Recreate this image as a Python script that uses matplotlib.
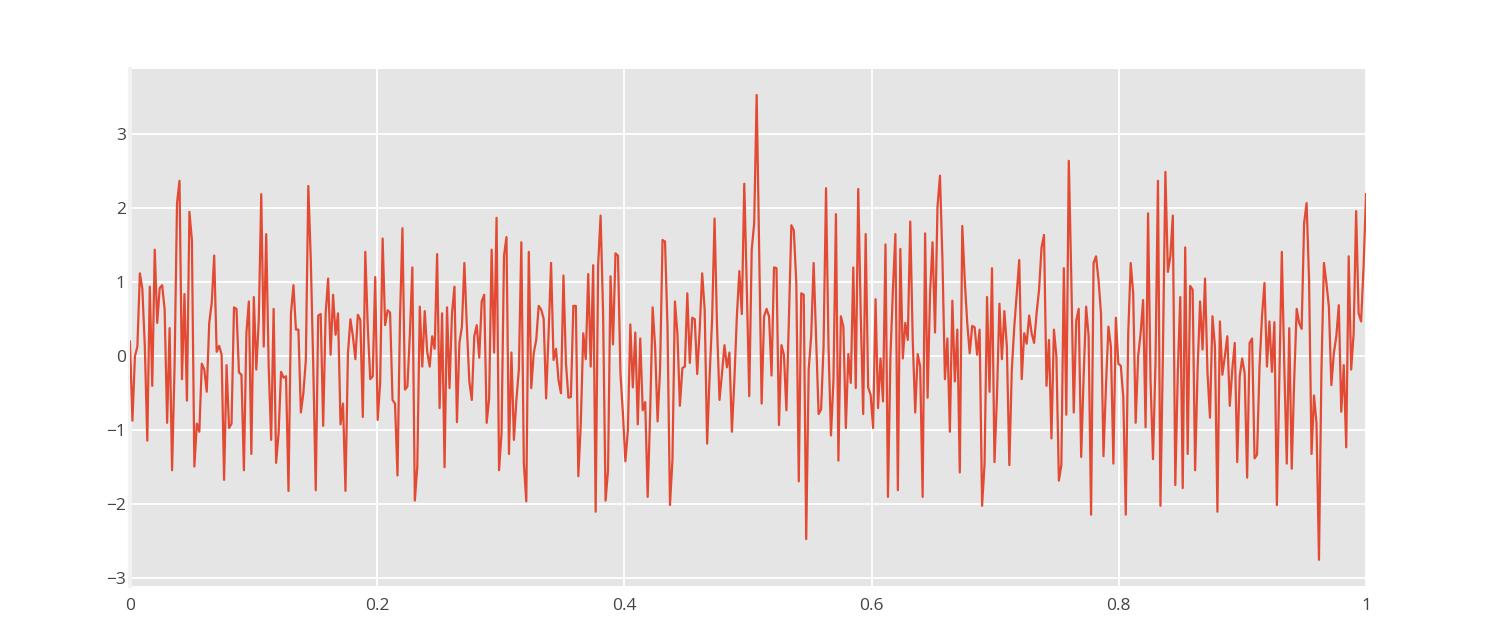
import numpy as np
import matplotlib.pyplot as plt

plt.rcParams['font.family'] = ['Open Sans', 'DejaVu Sans']

# values, 500 evenly spaced samples on [0, 1]
y_vals = [
    0.20, -0.87, 0.00, 0.13, 1.12, 0.91, 0.13, -1.14, 0.94, -0.40,
    1.44, 0.45, 0.92, 0.96, 0.63, -0.90, 0.38, -1.54, -0.14, 2.07,
    2.37, -0.31, 0.84, -0.60, 1.95, 1.57, -1.49, -0.91, -1.02, -0.10,
    -0.18, -0.48, 0.45, 0.72, 1.36, 0.06, 0.14, 0.02, -1.67, -0.12,
    -0.97, -0.91, 0.66, 0.64, -0.22, -0.25, -1.54, 0.31, 0.74, -1.32,
    0.80, -0.18, 0.49, 2.19, 0.13, 1.65, -0.14, -1.13, 0.64, -1.44,
    -1.04, -0.21, -0.29, -0.27, -1.82, 0.58, 0.96, 0.36, 0.36, -0.76,
    -0.50, -0.05, 2.30, 1.30, -0.14, -1.81, 0.55, 0.57, -0.94, 0.58,
    1.05, 0.02, 0.83, 0.29, 0.58, -0.92, -0.64, -1.82, 0.04, 0.50,
    0.27, -0.04, 0.56, 0.49, -0.82, 1.41, 0.40, -0.31, -0.27, 1.07,
    -0.86, -0.36, 1.59, 0.42, 0.62, 0.59, -0.59, -0.64, -1.61, 0.49,
    1.73, -0.45, -0.41, 0.30, 1.20, -1.95, -1.49, 0.67, -0.14, 0.61,
    0.06, -0.14, 0.27, 0.10, 1.38, -0.70, 0.58, -1.50, 0.66, -0.43,
    0.58, 0.94, -0.89, 0.18, 0.40, 1.26, 0.40, -0.34, -0.59, 0.27,
    0.42, -0.02, 0.74, 0.83, -0.90, -0.57, 1.44, 0.05, 1.87, -1.54,
    -1.04, 1.36, 1.61, -1.32, 0.05, -1.13, -0.59, -0.18, 1.54, -1.45,
    -1.96, 1.41, -0.43, 0.04, 0.22, 0.68, 0.63, 0.51, -0.57, 0.31,
    1.26, -0.05, 0.10, -0.32, -0.50, 1.09, -0.09, -0.56, -0.55, 0.68,
    0.68, -1.62, -0.91, 0.31, -0.04, 1.11, -0.14, 1.23, -2.10, 1.23,
    1.90, 0.58, -1.95, -1.54, 1.08, 0.16, 1.39, 1.36, -0.23, -0.77,
    -1.42, -1.00, 0.43, -0.42, 0.32, -0.92, 0.24, -0.73, -0.62, -1.90,
    -0.77, 0.66, 0.13, -0.88, -0.18, 1.57, 1.55, 0.40, -2.01, -1.40,
    0.74, 0.31, -0.67, -0.16, -0.14, 0.85, -0.09, 0.52, 0.50, -0.24,
    0.36, 1.12, 0.63, -1.18, -0.27, 0.49, 1.86, 0.40, -0.59, -0.23,
    0.15, -0.15, 0.05, -1.02, -0.32, 0.54, 1.15, 0.57, 2.33, 0.94,
    -0.54, 1.44, 1.80, 3.53, 1.48, -0.64, 0.54, 0.64, 0.54, -0.26,
    1.20, 1.19, -0.93, 0.15, 0.02, -0.73, 0.49, 1.77, 1.70, 0.99,
    -1.69, 0.85, 0.83, -2.47, -0.18, 0.27, 1.26, 0.22, -0.78, -0.72,
    0.13, 2.27, 0.13, -1.07, -0.32, 1.92, -1.41, 0.54, 0.40, -0.97,
    0.03, -0.36, 1.20, -0.43, 2.26, 0.58, -0.78, 1.65, -0.42, -0.52,
    -0.97, 0.77, -0.70, -0.03, -0.61, 1.51, -1.90, 0.00, 0.90, 1.65,
    -1.81, 1.45, -0.03, 0.45, 0.22, 1.82, 0.22, -0.76, 0.03, -0.14,
    -1.90, 1.66, -0.56, 0.85, 1.54, 0.32, 2.02, 2.44, 1.30, -0.31,
    0.24, -1.02, 0.75, -0.34, 0.36, -1.57, 1.76, 1.03, 0.45, 0.04,
    0.41, 0.39, 0.02, 0.36, -2.02, -1.45, 0.80, -0.48, 1.19, -1.43,
    -0.55, 0.71, -0.04, 0.61, 0.13, -1.47, -0.18, 0.40, 0.85, 1.30,
    -0.31, 0.31, 0.17, 0.55, 0.31, 0.18, 0.58, 0.90, 1.47, 1.64,
    -0.40, 0.22, -1.11, 0.36, 0.00, -1.68, -1.47, 1.19, -0.79, 2.64,
    1.08, -0.76, 0.48, 0.64, -1.36, -0.27, 0.67, 0.27, -2.14, 1.26,
    1.35, 1.03, 0.58, -1.35, -0.41, 0.40, 0.13, -1.45, 0.52, -0.10,
    -0.13, -0.55, -2.14, 0.31, 1.26, 0.85, -0.90, 0.00, 0.31, 0.76,
    -0.96, 1.93, -0.32, -1.39, -0.09, 2.37, -2.02, 0.04, 2.49, 1.14,
    1.35, 1.90, -1.74, -0.23, 0.80, -1.78, 1.47, -1.32, 0.95, 0.90,
    -1.54, -0.18, 0.74, 0.09, 1.05, -0.23, -0.83, 0.54, 0.13, -2.10,
    0.47, -0.25, 0.00, 0.27, -0.67, -0.18, 0.18, -1.43, -0.27, -0.03,
    -0.23, -1.64, 0.18, 0.24, -1.38, -1.33, -0.14, 0.54, 0.99, -0.14,
    0.47, -0.21, 0.46, -2.01, -0.32, 1.41, -0.14, -1.45, 0.38, -1.52,
    -0.32, 0.64, 0.45, 0.37, 1.80, 2.07, 1.03, -1.32, -0.53, -0.91,
    -2.75, -0.18, 1.26, 0.99, 0.67, -0.39, 0.04, 0.27, 0.69, -0.75,
    -0.12, -1.23, 1.35, -0.18, 0.31, 1.96, 0.58, 0.47, 1.21, 2.19,
]
x_vals = np.linspace(0, 1, len(y_vals))

x_ticks = [0, 0.2, 0.4, 0.6, 0.8, 1]
x_labels = ['0', '0.2', '0.4', '0.6', '0.8', '1']
y_ticks = [-3, -2, -1, 0, 1, 2, 3]
y_labels = ['\u22123', '\u22122', '\u22121', '0', '1', '2', '3']

fig = plt.figure(figsize=(14.99, 6.35), dpi=100)
ax = fig.add_axes([0.0867, 0.0776, 0.8246, 0.8137])
ax.set_facecolor('#E5E5E5')

ax.plot(x_vals, y_vals, color='#E24A33', lw=1.6, zorder=3)

ax.set_xlim(0, 1)
ax.set_ylim(-3.10, 3.88)
ax.set_xticks(x_ticks)
ax.set_xticklabels(x_labels)
ax.set_yticks(y_ticks)
ax.set_yticklabels(y_labels)
ax.grid(True, color='white', lw=1.3, zorder=1)
ax.set_axisbelow(True)
ax.axvline(0, color='#F2F2F2', lw=3, zorder=2, clip_on=False)

for s in ax.spines.values():
    s.set_visible(False)
ax.tick_params(length=0, labelsize=12.5, labelcolor='#444444')
ax.tick_params(axis='x', pad=9)
ax.tick_params(axis='y', pad=3)

fig.savefig('out.png', dpi=100)
